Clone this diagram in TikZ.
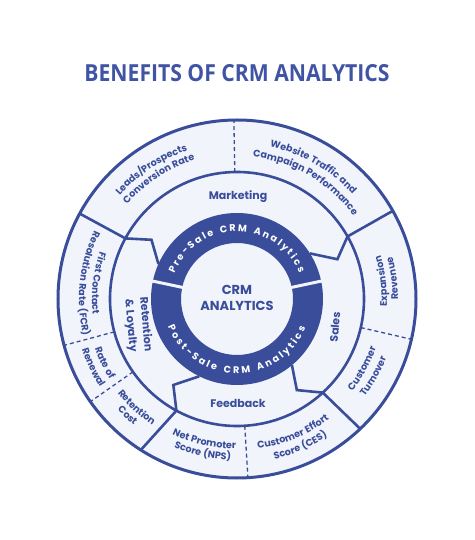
\documentclass[tikz,border=0pt]{standalone}
\usepackage{fontspec}
\setmainfont{Poppins}
\newfontfamily\titlefont{Open Sans}
\newfontfamily\lblfamily{Poppins}[LetterSpace=5]
\newfontfamily\ringfamily{Poppins}[LetterSpace=8]
\usetikzlibrary{decorations.text}
\definecolor{crmblue}{RGB}{57,77,155}
\definecolor{crmlight}{RGB}{241,244,250}
\definecolor{titleblue}{RGB}{64,84,164}
\newcommand\lblfont{\lblfamily\bfseries\fontsize{9.6}{11}\selectfont}
\newcommand\ringfont{\ringfamily\bfseries\fontsize{9.6}{11}\selectfont}
\newcommand\botlabel[3]{\path[decorate,decoration={text along path,text align=center,text color=crmblue,text={|\lblfont|#3}}] ({#1-45}:#2) arc[start angle={#1-45},end angle={#1+45},radius=#2];}
\newcommand\toplabel[3]{\path[decorate,decoration={text along path,text align=center,text color=crmblue,text={|\lblfont|#3}}] ({#1+45}:#2) arc[start angle={#1+45},end angle={#1-45},radius=#2];}
\tikzset{
  divider/.style={crmblue,line width=2.6pt,line join=miter},
  dashline/.style={crmblue,line width=1.3pt,dash pattern=on 4pt off 3pt},
  midlbl/.style={text=crmblue,font=\bfseries\fontsize{11}{15}\selectfont,align=center,inner sep=0pt}
}
\begin{document}
\begin{tikzpicture}[x=1pt,y=1pt]
\useasboundingbox (-237,-241) rectangle (237,299);
\def\Ra{179}\def\Rb{127}\def\Rc{86}\def\Rd{56}
% background disc
\fill[crmlight] (0,0) circle (\Ra);
% dark ring
\fill[crmblue,even odd rule] (0,0) circle (\Rc) (0,0) circle (\Rd);
\draw[crmlight,line width=3pt] (12:{\Rd-2}) -- (12:{\Rc+2});
\draw[crmlight,line width=3pt] (168:{\Rd-2}) -- (168:{\Rc+2});
% circles
\draw[crmblue,line width=3pt] (0,0) circle (\Ra);
\draw[crmblue,line width=2.6pt] (0,0) circle (\Rb);
% dividers
\draw[divider] (151.5:\Ra) -- (151.5:\Rb) -- (145.3:104) -- (156:\Rc);
\draw[divider] (29.5:\Ra) -- (29.5:\Rb) -- (21.6:108) -- (32:\Rc);
\draw[divider] (-46.5:\Ra) -- (-47.5:\Rb) -- (-56.7:109) -- (-50.3:\Rc);
\draw[divider] (237.5:\Ra) -- (241.5:\Rb) -- (233.5:107) -- (244:\Rc);
% dashed separators
\draw[dashline] (91:\Rb) -- (91:\Ra);
\draw[dashline] (-86.5:\Rb) -- (-86.5:\Ra);
\draw[dashline] (-13:\Rb) -- (-13:\Ra);
\draw[dashline] (195:\Rb) -- (195:\Ra);
\draw[dashline] (215:\Rb) -- (215:\Ra);
% title
\node[font=\titlefont\bfseries\fontsize{23.5}{28}\selectfont,text=titleblue,xscale=0.9] (title) at (0,225.7) {BENEFITS OF CRM ANALYTICS};
% centre
\node[text=crmblue,font=\bfseries\fontsize{13}{16.7}\selectfont,align=center] (crm) at (0,1) {CRM\\ANALYTICS};
% inner ring texts
\path[decorate,decoration={text along path,text align=fit to path,text color=white,text={|\ringfont|Pre-Sale CRM Analytics}}] (158:67.5) arc[start angle=158,end angle=22.7,radius=67.5];
\path[decorate,decoration={text along path,text align=fit to path,text color=white,text={|\ringfont|Post-Sale CRM Analytics}}] (202:74.5) arc[start angle=202,end angle=337,radius=74.5];
% middle ring labels
\node[midlbl] (mkt) at (1,102.5) {Marketing};
\node[midlbl] (fb) at (1,-104) {Feedback};
\node[midlbl,rotate=85] (sales) at (98,-28) {Sales};
\node[midlbl,rotate=-85] (ret) at (-99,-26) {Retention\\\& Loyalty};
% outer ring labels
\toplabel{123.5}{156.3}{Leads/Prospects}
\toplabel{123}{145}{Conversion Rate}
\toplabel{60}{155.8}{Website Traffic and}
\toplabel{59.6}{142.8}{Campaign Performance}
\botlabel{7}{150}{Expansion}
\botlabel{7.5}{161}{Revenue}
\botlabel{-29}{147.5}{Customer}
\botlabel{-29.5}{160.7}{Turnover}
\botlabel{-67.3}{151.3}{Customer Effort}
\botlabel{-66.7}{164.6}{Score (CES)}
\botlabel{257}{150}{Net Promoter}
\botlabel{257.4}{161}{Score (NPS)}
\botlabel{227.2}{152}{Retention}
\botlabel{226.8}{163}{Cost}
\botlabel{205.8}{150.6}{Rate of}
\botlabel{205.4}{163}{Renewal}
\botlabel{173.5}{145}{First Contact}
\botlabel{174}{158}{Resolution Rate (FCR)}
\end{tikzpicture}
\end{document}
